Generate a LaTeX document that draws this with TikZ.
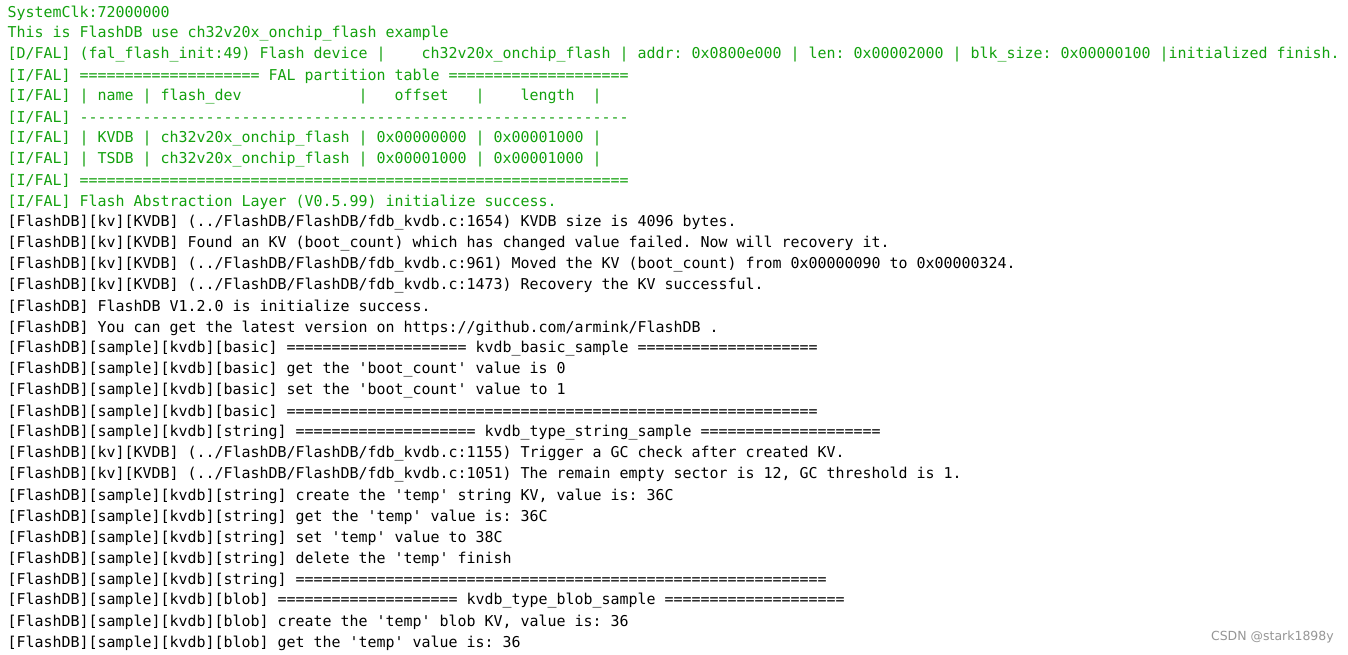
\documentclass[tikz,border=0pt]{standalone}
\usepackage{fontspec}
\setmonofont{DejaVu Sans Mono}
\setsansfont{DejaVu Sans}
\definecolor{tg}{RGB}{19,161,14}
\definecolor{wm}{RGB}{150,150,150}
\tikzset{ln/.style={anchor=west,inner sep=0pt,font=\ttfamily\fontsize{14.95pt}{17pt}\selectfont}}
\newcommand\TL[3]{\node[ln,text=#2] (l#1) at (7.5,{-13-21*#1}) {#3};}
\begin{document}
\begin{tikzpicture}[x=1pt,y=1pt]
\useasboundingbox (0,0) rectangle (1348,-654);
\fill[white] (0,0) rectangle (1348,-654);
\TL{0}{tg}{SystemClk:72000000}
\TL{1}{tg}{This is FlashDB use ch32v20x\_onchip\_flash example}
\TL{2}{tg}{[D/FAL] (fal\_flash\_init:49) Flash device |~~~~ch32v20x\_onchip\_flash | addr: 0x0800e000 | len: 0x00002000 | blk\_size: 0x00000100 |initialized finish.}
\TL{3}{tg}{[I/FAL] ==================== FAL partition table ====================}
\TL{4}{tg}{[I/FAL] | name | flash\_dev~~~~~~~~~~~~~|~~~offset~~~|~~~~length~~|}
\TL{5}{tg}{[I/FAL] -------------------------------------------------------------}
\TL{6}{tg}{[I/FAL] | KVDB | ch32v20x\_onchip\_flash | 0x00000000 | 0x00001000 |}
\TL{7}{tg}{[I/FAL] | TSDB | ch32v20x\_onchip\_flash | 0x00001000 | 0x00001000 |}
\TL{8}{tg}{[I/FAL] =============================================================}
\TL{9}{tg}{[I/FAL] Flash Abstraction Layer (V0.5.99) initialize success.}
\TL{10}{black}{[FlashDB][kv][KVDB] (../FlashDB/FlashDB/fdb\_kvdb.c:1654) KVDB size is 4096 bytes.}
\TL{11}{black}{[FlashDB][kv][KVDB] Found an KV (boot\_count) which has changed value failed. Now will recovery it.}
\TL{12}{black}{[FlashDB][kv][KVDB] (../FlashDB/FlashDB/fdb\_kvdb.c:961) Moved the KV (boot\_count) from 0x00000090 to 0x00000324.}
\TL{13}{black}{[FlashDB][kv][KVDB] (../FlashDB/FlashDB/fdb\_kvdb.c:1473) Recovery the KV successful.}
\TL{14}{black}{[FlashDB] FlashDB V1.2.0 is initialize success.}
\TL{15}{black}{[FlashDB] You can get the latest version on https://github.com/armink/FlashDB .}
\TL{16}{black}{[FlashDB][sample][kvdb][basic] ==================== kvdb\_basic\_sample ====================}
\TL{17}{black}{[FlashDB][sample][kvdb][basic] get the 'boot\_count' value is 0}
\TL{18}{black}{[FlashDB][sample][kvdb][basic] set the 'boot\_count' value to 1}
\TL{19}{black}{[FlashDB][sample][kvdb][basic] ===========================================================}
\TL{20}{black}{[FlashDB][sample][kvdb][string] ==================== kvdb\_type\_string\_sample ====================}
\TL{21}{black}{[FlashDB][kv][KVDB] (../FlashDB/FlashDB/fdb\_kvdb.c:1155) Trigger a GC check after created KV.}
\TL{22}{black}{[FlashDB][kv][KVDB] (../FlashDB/FlashDB/fdb\_kvdb.c:1051) The remain empty sector is 12, GC threshold is 1.}
\TL{23}{black}{[FlashDB][sample][kvdb][string] create the 'temp' string KV, value is: 36C}
\TL{24}{black}{[FlashDB][sample][kvdb][string] get the 'temp' value is: 36C}
\TL{25}{black}{[FlashDB][sample][kvdb][string] set 'temp' value to 38C}
\TL{26}{black}{[FlashDB][sample][kvdb][string] delete the 'temp' finish}
\TL{27}{black}{[FlashDB][sample][kvdb][string] ===========================================================}
\TL{28}{black}{[FlashDB][sample][kvdb][blob] ==================== kvdb\_type\_blob\_sample ====================}
\TL{29}{black}{[FlashDB][sample][kvdb][blob] create the 'temp' blob KV, value is: 36}
\TL{30}{black}{[FlashDB][sample][kvdb][blob] get the 'temp' value is: 36}
\node[anchor=east,inner sep=0pt,text=wm,font=\sffamily\fontsize{12.5pt}{14pt}\selectfont] (wmk) at (1334,-637) {CSDN @stark1898y};
\end{tikzpicture}
\end{document}
